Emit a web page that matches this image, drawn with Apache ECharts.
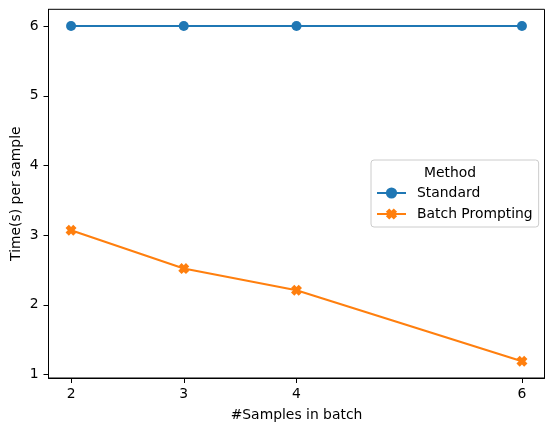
<!DOCTYPE html>
<html>
<head>
<meta charset="utf-8">
<script src="https://cdn.jsdelivr.net/npm/echarts@6/dist/echarts.min.js"></script>
<style>html,body{margin:0;padding:0;background:#fff}#c{width:554px;height:432px}</style>
</head>
<body>
<div id="c"></div>
<script>
const batchSizes = [2, 3, 4, 6];
const standardTimes = [6, 6, 6, 6];
const batchTimes = [3.07, 2.52, 2.21, 1.19];
const xTicks = [2, 3, 4, 6];
const yTicks = [1, 2, 3, 4, 5, 6];
const seriesNames = ['Standard', 'Batch Prompting'];

const FONT = 'DejaVu Sans';
const FS = 13.9;
const xSymbol = 'path://M0,3 L3,0 L5,2 L7,0 L10,3 L8,5 L10,7 L7,10 L5,8 L3,10 L0,7 L2,5 Z';

const chart = echarts.init(document.getElementById('c'), null, {renderer: 'canvas'});
chart.setOption({
  animation: false,
  backgroundColor: '#fff',
  textStyle: {fontFamily: FONT},
  grid: {left: 48.5, right: 9.5, top: 9.3, bottom: 54, containLabel: false, outerBoundsMode: 'none',
         show: true, borderColor: '#000', borderWidth: 1, backgroundColor: 'transparent'},
  xAxis: {
    type: 'value', min: 1.8, max: 6.2,
    name: '#Samples in batch', nameLocation: 'middle', nameGap: 30, nameMoveOverlap: false,
    nameTextStyle: {fontFamily: FONT, fontSize: FS, color: '#000'},
    axisLine: {show: true, onZero: false, lineStyle: {color: '#000', width: 1}},
    axisTick: {show: true, length: 5, lineStyle: {color: '#000'}, customValues: xTicks},
    axisLabel: {color: '#000', fontFamily: FONT, fontSize: FS, margin: 9, customValues: xTicks},
    splitLine: {show: false}
  },
  yAxis: {
    type: 'value', min: 0.95, max: 6.2405,
    name: 'Time(s) per sample', nameLocation: 'middle', nameGap: 25, nameMoveOverlap: false,
    nameTextStyle: {fontFamily: FONT, fontSize: FS, color: '#000'},
    axisLine: {show: true, onZero: false, lineStyle: {color: '#000', width: 1}},
    axisTick: {show: true, length: 5, lineStyle: {color: '#000'}, customValues: yTicks},
    axisLabel: {color: '#000', fontFamily: FONT, fontSize: FS, margin: 10, customValues: yTicks},
    splitLine: {show: false}
  },
  legend: {
    orient: 'vertical', left: 371, top: 160,
    padding: [26, 6, 6, 5], itemGap: 7, itemWidth: 29, itemHeight: 14,
    borderColor: '#ccc', borderWidth: 1, borderRadius: 3, backgroundColor: 'rgba(255,255,255,0.8)',
    textStyle: {fontFamily: FONT, fontSize: FS, color: '#000', padding: [0, 0, 0, 6]},
    data: seriesNames
  },
  graphic: [{
    type: 'text', left: 454 - 30, top: 166, z: 100,
    style: {text: 'Method', fontFamily: FONT, fontSize: FS, fill: '#000', width: 60, align: 'center'}
  }],
  series: [
    {
      name: seriesNames[0], type: 'line',
      data: batchSizes.map((x, i) => [x, standardTimes[i]]),
      color: '#1f77b4', symbol: 'circle', symbolSize: 10,
      lineStyle: {width: 2.1}, itemStyle: {color: '#1f77b4'}
    },
    {
      name: seriesNames[1], type: 'line',
      data: batchSizes.map((x, i) => [x, batchTimes[i]]),
      color: '#ff7f0e', symbol: xSymbol, symbolSize: 11,
      lineStyle: {width: 2.1}, itemStyle: {color: '#ff7f0e'}
    }
  ]
});
</script>
</body>
</html>
